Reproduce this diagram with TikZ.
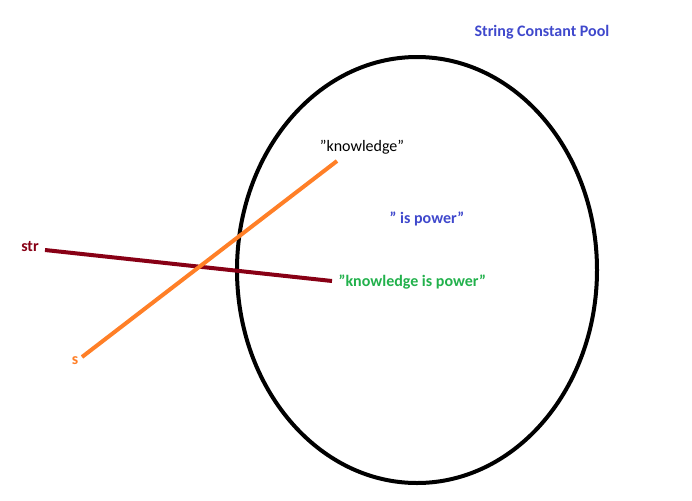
\documentclass[tikz,border=0pt]{standalone}
\usepackage{fontspec}
\setmainfont{Carlito}
\definecolor{poolblue}{RGB}{63,72,204}
\definecolor{litgreen}{RGB}{34,177,76}
\definecolor{strred}{RGB}{136,0,21}
\definecolor{sorange}{RGB}{255,127,39}
\tikzset{
  lbl/.style={font=\bfseries\fontsize{12}{14}\selectfont,inner sep=1pt},
  ref/.style={line width=3pt}
}
\begin{document}
\begin{tikzpicture}[x=0.75pt,y=-0.75pt]
\useasboundingbox (0,0) rectangle (692,500);
\draw[line width=3pt] (417,270) ellipse [x radius=180,y radius=213];
\node[lbl,text=poolblue] (title) at (542,32) {String Constant Pool};
\node[font=\fontsize{12}{14}\selectfont,inner sep=1pt] (know) at (362,147) {"knowledge"};
\node[lbl,text=poolblue] (ispow) at (427,219) {" is power"};
\node[lbl,text=litgreen,anchor=west] (full) at (337,282) {"knowledge is power"};
\node[lbl,text=strred] (str) at (30,247) {str};
\node[lbl,text=sorange] (s) at (75,361) {s};
\coordinate (strend) at (45,250);
\coordinate (send) at (82,357);
\coordinate (knowend) at (337,161);
\coordinate (fullend) at (332,281);
\draw[ref,strred] (strend) -- (fullend);
\draw[ref,sorange] (send) -- (knowend);
\end{tikzpicture}
\end{document}
